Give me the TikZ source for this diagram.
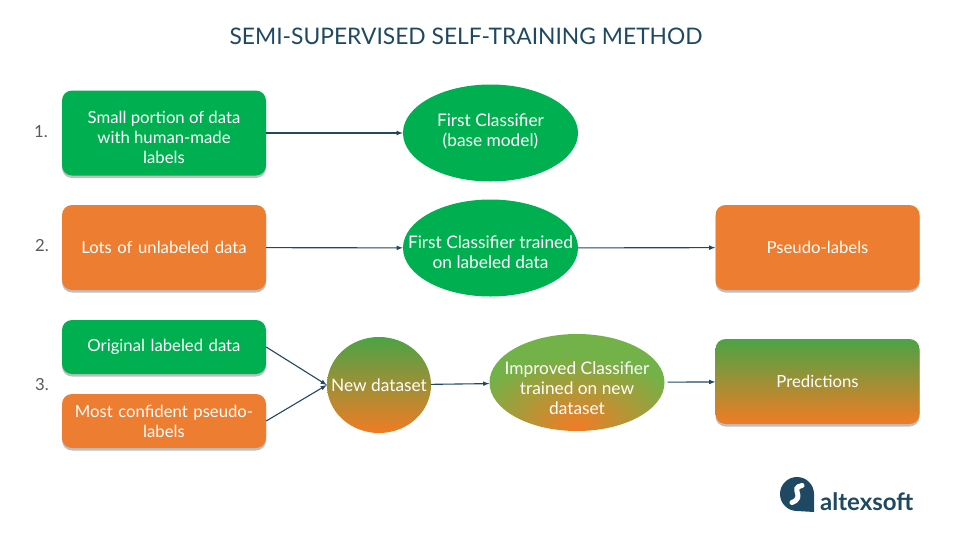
\documentclass[tikz,border=0pt]{standalone}
\usepackage{fontspec}
\setmainfont{Lato}
\usetikzlibrary{arrows,shadows,shapes.geometric}
\definecolor{leaf}{RGB}{0,176,80}
\definecolor{carrot}{RGB}{237,125,49}
\definecolor{topgreen}{RGB}{76,163,70}
\definecolor{botorange}{RGB}{240,124,38}
\definecolor{lime}{RGB}{114,178,72}
\definecolor{ink}{RGB}{31,73,99}
\definecolor{numgray}{RGB}{90,90,90}
\pgfdeclareradialshading{improved}{\pgfpoint{0bp}{-23bp}}{%
  color(0bp)=(botorange); color(5bp)=(botorange!85!lime); color(15bp)=(botorange!50!lime);
  color(30bp)=(lime); color(100bp)=(lime)}

\begin{document}
\begin{tikzpicture}[
			x=1pt, y=-1pt,
			every node/.style={font=\fontsize{16.7}{20}\selectfont},
			card/.style={rectangle,rounded corners=10pt,text=white,align=center,
			text width=194pt,minimum width=204pt,minimum height=85pt,inner sep=0pt,
			drop shadow={shadow xshift=0pt,shadow yshift=-2.5pt,fill=black!45,opacity=0.55}},
			slim/.style={card,minimum height=54pt},
			greencard/.style={fill=leaf},
			orangecard/.style={fill=carrot},
			mixed/.style={top color=topgreen,bottom color=botorange},
			blob/.style={ellipse,text=white,align=center,inner xsep=-30pt,inner ysep=-20pt,
			minimum width=175pt,minimum height=97pt,font=\fontsize{17.3}{20}\selectfont},
			inside/.style={text=white,align=center,inner sep=0pt},
			insideblob/.style={inside,font=\fontsize{17.3}{20}\selectfont},
			number/.style={text=numgray},
			flow/.style={>=latex,draw=ink,line width=1.1pt,->}
			]
			\useasboundingbox (0,0) rectangle (954,544);
			\fill[white] (0,0) rectangle (954,544);
			\node[text=ink,font=\fontsize{22.8}{28}\selectfont] (title) at (466,36)
				{SEMI-SUPERVISED SELF-TRAINING METHOD};
			% row 1
			\node[number] (n1) at (41,132) {1.};
			\node[card,greencard,label={[inside,yshift=-4pt]center:{Small portion of data\\with human-made\\labels}}] (small) at (164,133) {};
			\node[blob,fill=leaf,label={[insideblob,yshift=2pt]center:{First Classifier\\(base model)}}] (first) at (490.5,133) {};
			\draw[flow] (small) -- (first);
			% row 2
			\node[number] (n2) at (42,246) {2.};
			\node[card,orangecard] (lots) at (164,247.5) {Lots of unlabeled data};
			\node[blob,fill=leaf,label={[insideblob,yshift=-4pt]center:{First Classifier trained\\on labeled data}}] (trained) at (490.5,248) {};
			\node[card,orangecard] (pseudo) at (817.5,247.5) {Pseudo-labels};
			\draw[flow] (lots) -- (trained);
			\draw[flow] (trained) -- (pseudo);
			% row 3
			\node[number] (n3) at (42,385) {3.};
			\node[slim,greencard] (orig) at (164,347) {Original labeled data};
			\node[slim,orangecard] (conf) at (164,421) {Most confident pseudo-\\labels};
			\node[blob,mixed,minimum width=104pt,minimum height=96pt] (new) at (379,385)
				{New dataset};
			\node[blob,shading=improved,label={[insideblob,yshift=-6pt]center:{Improved Classifier\\trained on new\\dataset}}] (better) at (577,382.5) {};
			\node[card,mixed] (pred) at (817.5,381.5) {Predictions};
			\draw[flow] (orig.east) -- (new.west);
			\draw[flow] (conf.east) -- (new.west);
			\draw[flow] (new) -- (better);
			\draw[flow,shorten <=3pt] (better) -- (pred);
			% logo
			\fill[ink] (797,494) circle (17);
			\fill[ink] (797,511) -- (814,494) -- (814,512) -- cycle;
			\draw[white,line width=5pt,line cap=round] (802,485.5) .. controls (789,488) and (806,497) .. (792,502.5);
			\node[text=ink,anchor=west,font=\fontsize{24}{26}\selectfont\bfseries,inner sep=0pt] (brand) at (820,502) {altexsoft};
		\end{tikzpicture}
\end{document}
